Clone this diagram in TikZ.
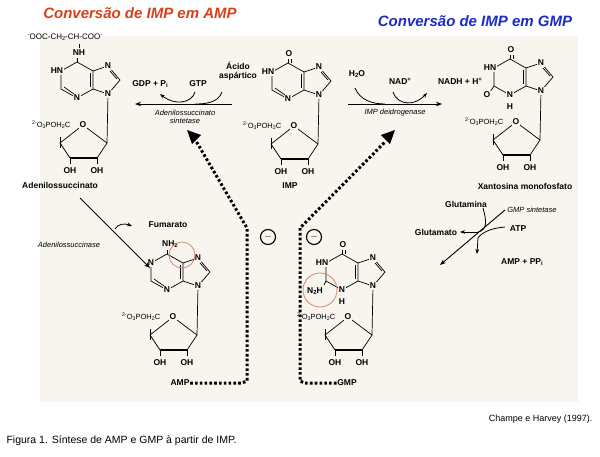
\documentclass[tikz,border=0pt]{standalone}
\usepackage{fontspec}
\setmainfont{Liberation Sans}
\usetikzlibrary{arrows.meta}
\definecolor{bg}{HTML}{F7F5EE}
\definecolor{ttlr}{HTML}{D9401A}
\definecolor{ttlb}{HTML}{1A2BC8}
\definecolor{circ}{HTML}{D98870}
\newcommand\sub[1]{\raisebox{-0.35ex}{\scalebox{0.7}{#1}}}
\newcommand\sups[1]{\raisebox{0.7ex}{\scalebox{0.7}{#1}}}
\tikzset{
 lbl/.style={font=\fontsize{8.5}{9}\selectfont\bfseries, inner sep=0.6pt, fill=bg},
 lbln/.style={font=\fontsize{8.5}{9}\selectfont\bfseries, inner sep=0.6pt},
 enz/.style={font=\fontsize{7.5}{8}\selectfont\itshape, inner sep=0.5pt, align=center},
 bond/.style={line width=0.7pt},
 dots/.style={line width=3pt, dash pattern=on 2.6pt off 2.2pt},
 rxn/.style={line width=0.9pt, -{Stealth[length=6pt]}},
 title/.style={font=\fontsize{15}{17}\selectfont\bfseries\itshape},
}
\newcommand\nucskel{%
 \draw[bond] (0,-18)--(16,-9)--(16,9)--(0,18)--(-16,9)--(-16,-9)--cycle;
 \draw[bond] (16,-9)--(31,-14)--(43,0)--(31,14)--(16,9);
 \draw[bond] (13,-7)--(13,7);
 \draw[bond] (33,-9)--(40,-1);
 \draw[bond] (31,14)--(30,63);
 \draw[bond] (30,63)--(6,45)--(-17,63)--(-7,78);
 \draw[bond] (20,78)--(30,63);
 \draw[line width=1.7pt] (-7,78)--(20,78);
 \draw[bond] (-17,57)--(-17,68);
 \draw[bond] (-7,78)--(-7,84) (20,78)--(20,84);
 \node[lbl] at (31,-14) {N};
 \node[lbl] at (31,14) {N};
 \node[lbl] at (6,45) {O};
 \node[lbln] at (-7,91) {OH};
 \node[lbln] at (20,91) {OH};
 \node[lbln,anchor=east,font=\fontsize{7.5}{8}\selectfont] at (-6,45) {\sups{2-}O\sub{3}POH\sub{2}C};
}
\begin{document}
\begin{tikzpicture}[x=1pt,y=-1pt]
\useasboundingbox (0,0) rectangle (600,456);
\fill[white] (0,0) rectangle (600,456);
\fill[bg] (40,36) rectangle (578,402);
% titles
\node[title,text=ttlr] at (140,13) {Conversão de IMP em AMP};
\node[title,text=ttlb] at (475,21) {Conversão de IMP em GMP};
% Adenilossuccinato
\begin{scope}[shift={(77,80)}]
 \nucskel
 \draw[bond] (0,-18)--(0,-22);
 \node[lbl] (an) at (2,-27) {NH};
 \draw[bond] (2,-32)--(2,-36);
 \node[lbln,font=\fontsize{8}{9}\selectfont] (asp) at (-12,-43) {\sups{-}OOC-CH\sub{2}-CH-COO\sups{-}};
 \node[lbl] at (-20,-9) {HN};
 \node[lbl] at (0,18) {N};
 \draw[bond] (-13,7)--(-3,14);
 \node[lbln] at (-17,105) {Adenilossuccinato};
\end{scope}
% IMP
\begin{scope}[shift={(288,81)}]
 \nucskel
 \draw[bond] (0,-18)--(0,-22) (3,-18)--(3,-22);
 \node[lbl] at (1,-27) {O};
 \node[lbl] at (-20,-9) {HN};
 \node[lbl] at (0,18) {N};
 \draw[bond] (-13,7)--(-3,14);
 \node[lbln] (impl) at (2,105) {IMP};
\end{scope}
% Xantosina
\begin{scope}[shift={(510,77)}]
 \nucskel
 \draw[bond] (0,-18)--(0,-22) (3,-18)--(3,-22);
 \node[lbl] at (1,-27) {O};
 \node[lbl] at (-20,-9) {HN};
 \node[lbl] at (0,18) {N};
 \node[lbln] at (0,30) {H};
 \draw[bond] (-16,9)--(-20,15);
 \node[lbl] at (-23,18) {O};
 \node[lbln] at (15,109) {Xantosina monofosfato};
\end{scope}
% AMP
\begin{scope}[shift={(167,272)}]
 \nucskel
 \draw[bond] (0,-18)--(0,-22);
 \node[lbl] at (3,-28) {NH\sub{2}};
 \node[lbl] at (-16,-9) {N};
 \node[lbl] at (0,18) {N};
 \draw[bond] (-13,7)--(-3,14);
 \draw[circ,line width=0.8pt] (15,-17) circle (13);
\end{scope}
\node[lbln] (ampl) at (180,383) {AMP};
% GMP
\begin{scope}[shift={(342,272)}]
 \nucskel
 \draw[bond] (0,-18)--(0,-22) (3,-18)--(3,-22);
 \node[lbl] at (1,-27) {O};
 \node[lbl] at (-20,-9) {HN};
 \node[lbl] at (0,18) {N};
 \node[lbln] at (0,30) {H};
 \draw[bond] (-16,9)--(-18,13);
 \node[lbl] at (-27,19) {N\sub{2}H};
 \draw[circ,line width=0.8pt] (-22,18) circle (17);
\end{scope}
\node[lbln] (gmpl) at (347,383) {GMP};
% reaction IMP -> adenilossuccinato
\coordinate (a1) at (232,104);
\coordinate (a2) at (135,104);
\draw[rxn] (a1)--(a2);
\node[lbln,align=center] (aspa) at (238,71) {Ácido\\aspártico};
\node[lbln] (gtp) at (198,84) {GTP};
\node[lbln] (gdp) at (150,84) {GDP + P\sub{i}};
\draw[line width=0.8pt] (222,92) .. controls (218,103) and (205,104) .. (195,104);
\draw[line width=0.8pt,-{Stealth[length=5pt]}] (195,92) .. controls (192,103) and (175,106) .. (160,94);
\node[enz] at (185,117) {Adenilossuccinato\\sintetase};
% reaction IMP -> xantosina
\coordinate (b1) at (348,104);
\coordinate (b2) at (442,104);
\draw[rxn] (b1)--(b2);
\node[lbln] (h2o) at (357,74) {H\sub{2}O};
\node[lbln] (nad) at (400,81) {NAD\sups{+}};
\node[lbln] (nadh) at (460,81) {NADH + H\sups{+}};
\draw[line width=0.8pt] (355,88) .. controls (360,100) and (372,104) .. (385,104);
\draw[line width=0.8pt,-{Stealth[length=5pt]}] (393,92) .. controls (398,106) and (415,106) .. (427,93);
\node[enz] at (395,113) {IMP deidrogenase};
% adenilossuccinato -> AMP
\coordinate (c1) at (80,198);
\coordinate (c2) at (150,268);
\draw[rxn] (c1)--(c2);
\draw[line width=0.8pt,-{Stealth[length=5pt]}] (115,229) .. controls (118,224) and (124,223) .. (132,226);
\node[lbln] (fum) at (168,225) {Fumarato};
\node[enz] at (69,245) {Adenilossuccinase};
% xantosina -> GMP
\coordinate (d1) at (505,210);
\coordinate (d2) at (440,265);
\draw[rxn] (d1)--(d2);
\node[lbln] (glm) at (466,204) {Glutamina};
\node[enz] at (532,210) {GMP sintetase};
\node[lbln] (atp) at (518,229) {ATP};
\node[lbln] (glt) at (436,232) {Glutamato};
\node[lbln] (amppp) at (522,262) {AMP + PP\sub{i}};
\draw[line width=0.8pt] (483,208) .. controls (487,222) and (487,230) .. (478,232);
\draw[line width=0.8pt,-{Stealth[length=5pt]}] (478,232)--(460,232);
\draw[line width=0.8pt] (505,227) .. controls (492,228) and (482,232) .. (478,238);
\draw[line width=0.8pt,-{Stealth[length=5pt]}] (478,238)--(477,254);
% feedback dotted
\coordinate (l1) at (247,228);
\coordinate (l2) at (247,381);
\coordinate (r1) at (300,228);
\coordinate (r2) at (300,381);
\draw[dots] (ampl.east)--(242,383)--(l2)--(l1)--(196,141);
\fill (187,130)--(201,135)--(192,144)--cycle;
\draw[dots] (gmpl.west)--(305,383)--(r2)--(r1)--(385,142);
\fill (395,130)--(381,135)--(390,144)--cycle;
\node[draw,circle,line width=1.1pt,inner sep=0.5pt,minimum size=15pt,font=\bfseries] (m1) at (268,237) {$-$};
\node[draw,circle,line width=1.1pt,inner sep=0.5pt,minimum size=15pt,font=\bfseries] (m2) at (314,237) {$-$};
% captions
\node[anchor=east,font=\fontsize{9}{10}\selectfont] (src) at (596,419) {Champe e Harvey (1997).};
\node[anchor=west,font=\fontsize{10.5}{11}\selectfont] (cap) at (3,441) {Figura 1. Síntese de AMP e GMP à partir de IMP.};
\end{tikzpicture}
\end{document}
